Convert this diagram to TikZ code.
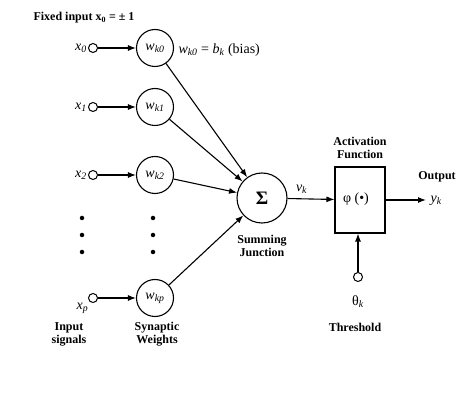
\documentclass[tikz,border=0pt]{standalone}
\usepackage{fontspec}
\setmainfont{Liberation Serif}
\usetikzlibrary{arrows.meta}
\newcommand\vsub[2]{\textit{#1}\textsubscript{\textit{#2}}}
\begin{document}
\begin{tikzpicture}[x=1pt,y=-1pt,
  wt/.style={circle,draw,line width=1.1pt,minimum size=37pt,inner sep=0pt,font=\fontsize{14}{14}\selectfont},
  inp/.style={circle,draw,line width=1pt,minimum size=9pt,inner sep=0pt},
  arr/.style={-{Latex[length=8pt,width=6pt]},line width=1.1pt},
  lbl/.style={font=\bfseries\fontsize{12}{13}\selectfont,align=center},
  txt/.style={font=\fontsize{14}{14}\selectfont},
  dotn/.style={circle,fill,inner sep=0pt,minimum size=4.5pt}]
\useasboundingbox (0,0) rectangle (474,403);
\fill[white] (0,0) rectangle (474,403);
% top label
\node[lbl,anchor=west] (fixed) at (30,18) {Fixed input x\textsubscript{0} = ± 1};
% inputs
\node[inp] (i0) at (93,48) {};
\node[inp] (i1) at (93,107) {};
\node[inp] (i2) at (93,175) {};
\node[inp] (ip) at (93,298) {};
\node[txt,anchor=east,inner sep=1pt] (l0) at (i0.west) {\vsub{x}{0}};
\node[txt,anchor=east,inner sep=1pt] (l1) at (i1.west) {\vsub{x}{1}};
\node[txt,anchor=east,inner sep=1pt] (l2) at (i2.west) {\vsub{x}{2}};
\node[txt,anchor=north east,inner sep=1pt] (lp) at (ip.south west) {\vsub{x}{p}};
% weights
\node[wt] (w0) at (155,48) {\vsub{w}{k0}};
\node[wt] (w1) at (155,107) {\vsub{w}{k1}};
\node[wt] (w2) at (155,175) {\vsub{w}{k2}};
\node[wt] (wp) at (155,298) {\vsub{w}{kp}};
\node[txt,anchor=west] (bias) at (175,50) {\vsub{w}{k0} = \vsub{b}{k} (bias)};
% dots
\foreach \yy [count=\i] in {218,235,252}{
  \node[dotn] (da\i) at (82,\yy) {};
  \node[dotn] (db\i) at (153,\yy) {};
}
% input arrows
\draw[arr] (i0) -- (w0);
\draw[arr] (i1) -- (w1);
\draw[arr] (i2) -- (w2);
\draw[arr] (ip) -- (wp);
% summing junction
\node[circle,draw,line width=1.1pt,minimum size=50pt,inner sep=0pt,font=\bfseries\fontsize{19}{19}\selectfont] (sum) at (262,198) {Σ};
\draw[arr] (w0) -- (sum);
\draw[arr] (w1) -- (sum);
\draw[arr] (w2) -- (sum);
\draw[arr] (wp) -- (sum);
\node[lbl] (sumlbl) at (262,246) {Summing\\Junction};
% activation box
\node[draw,line width=1.1pt,minimum width=50pt,minimum height=66pt,inner sep=0pt] (box) at (360,200) {};
\node[txt] (phi) at (356,199) {φ (•)};
\node[lbl] (actlbl) at (360,148) {Activation\\Function};
\draw[arr] (sum) -- node[txt,above=1pt,pos=0.3] (vk) {\vsub{v}{k}} (box);
\coordinate (out) at (426,200);
\draw[arr] (box) -- (out);
\node[lbl,anchor=south] (outlbl) at (437,186) {Output};
\node[txt,anchor=west] (yk) at (427,201) {\vsub{y}{k}};
% threshold
\node[inp] (th) at (358,277) {};
\draw[arr] (th) -- (th |- box.south);
\node[txt] (theta) at (358,302) {θ\textsubscript{\textit{k}}};
\node[lbl] (thlbl) at (355,327) {Threshold};
% bottom labels
\node[lbl] (inlbl) at (69,334) {Input\\signals};
\node[lbl] (synlbl) at (157,334) {Synaptic\\Weights};
\end{tikzpicture}
\end{document}
